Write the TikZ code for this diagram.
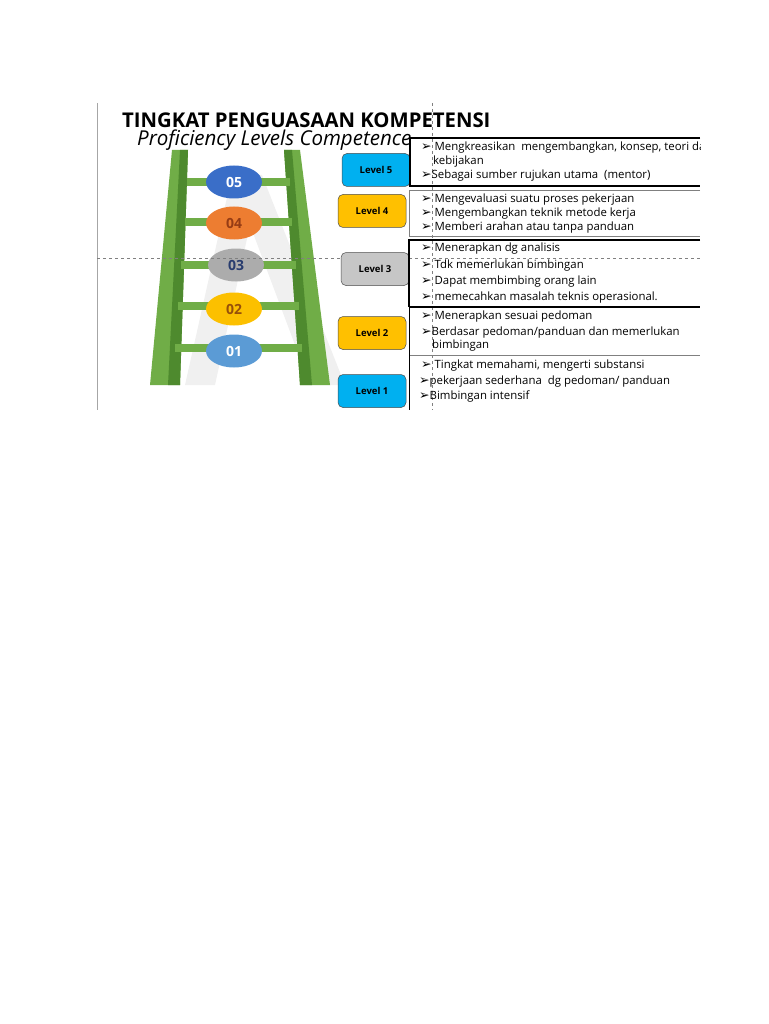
\documentclass[tikz,border=0pt]{standalone}
\usepackage{fontspec}
\setmainfont{Open Sans}
\newfontfamily\djvfont{DejaVu Sans}
\usetikzlibrary{shapes.geometric}
\begin{document}
\begin{tikzpicture}[x=1pt,y=-1pt,
  lvl/.style={rounded corners=5pt,draw=gray!60!black,line width=0.5pt,minimum width=68pt,minimum height=33pt,font=\bfseries\fontsize{9.5}{10}\selectfont},
  egg/.style={ellipse,minimum width=56pt,minimum height=33pt,inner sep=0pt,font=\bfseries\fontsize{14}{14}\selectfont},
  itm/.style={anchor=west,inner sep=0pt,font=\fontsize{11.4}{12}\selectfont}]
\useasboundingbox (0,0) rectangle (768,1024);
\definecolor{lg}{HTML}{70AD47}\definecolor{dg}{HTML}{4E8A2E}
% shadow
\fill[gray!12] (185,385) -- (232,175) -- (262,175) -- (345,385) -- (310,385) -- (250,225) -- (215,385) -- cycle;
% frame lines
\draw[gray!70,line width=0.8pt] (97,103) -- (97,410);
% title
\node[anchor=base west,inner sep=0pt,font=\bfseries\fontsize{20.3}{22}\selectfont] (t1) at (122,128) {TINGKAT PENGUASAAN KOMPETENSI};
\node[anchor=base west,inner sep=0pt,font=\itshape\fontsize{20.5}{22}\selectfont] (t2) at (137,146) {Proficiency Levels Competence};
% ladder rails
\fill[lg] (172,150) -- (188,150) -- (180,385) -- (150,385) -- cycle;
\fill[dg] (180,150) -- (188,150) -- (180,385) -- (168,385) -- cycle;
\fill[lg] (284,150) -- (300,150) -- (330,385) -- (300,385) -- cycle;
\fill[dg] (284,150) -- (292,150) -- (312,385) -- (300,385) -- cycle;
% rungs
\foreach \y/\a/\b in {182/187/290, 222/185/292, 265/181/296, 306/178/299, 348/175/302}
  \fill[lg] (\a,\y-4) rectangle (\b,\y+4);
% eggs
\node[egg,fill={rgb,255:red,58;green,110;blue,200},text=white] (e5) at (234,182) {05};
\node[egg,fill={rgb,255:red,237;green,125;blue,49},text={rgb,255:red,150;green,60;blue,20}] (e4) at (234,223) {04};
\node[egg,fill=gray!65,text={rgb,255:red,40;green,60;blue,110}] (e3) at (236,265) {03};
\node[egg,fill={rgb,255:red,252;green,192;blue,0},text={rgb,255:red,150;green,80;blue,10}] (e2) at (234,309) {02};
\node[egg,fill={rgb,255:red,91;green,155;blue,213},text=white] (e1) at (234,351) {01};
% dashed guides
\draw[gray,dashed,line width=0.4pt] (432,103) -- (432,410);
\draw[gray,dashed,line width=0.4pt] (97,258) -- (700,258);
% level boxes
\node[lvl,fill={rgb,255:red,0;green,176;blue,240}] (l5) at (376,170) {Level 5};
\node[lvl,fill={rgb,255:red,255;green,192;blue,0}] (l4) at (372,211) {Level 4};
\node[lvl,fill=gray!45] (l3) at (375,269) {Level 3};
\node[lvl,fill={rgb,255:red,255;green,192;blue,0}] (l2) at (372,333) {Level 2};
\node[lvl,fill={rgb,255:red,0;green,176;blue,240}] (l1) at (372,391) {Level 1};
% text boxes
\draw[black,line width=1.5pt] (700,138) -- (410,138) -- (410,186) -- (700,186);
\draw[gray,line width=0.6pt] (700,190) -- (409,190) -- (409,236) -- (700,236);
\draw[black,line width=1.2pt] (700,240) -- (409,240) -- (409,307);
\draw[black,line width=1.2pt] (409,307) -- (700,307);
\draw[black,line width=1pt] (409,307) -- (409,355);
\draw[gray,line width=1pt] (409,355) -- (700,355);
\draw[black,line width=1pt] (409,355) -- (409,410);
\begin{scope}
\clip (410,100) rectangle (700,412);
\newcommand\myar{{\djvfont\fontsize{12.5}{10}\selectfont ➢}}
\node[itm] (a1) at (421,148) {\myar\ Mengkreasikan\ \ mengembangkan, konsep, teori dan};
\node[itm] (a2) at (433,162) {kebijakan};
\node[itm] (a3) at (421,176) {\myar Sebagai sumber rujukan utama\ \ (mentor)};
\node[itm] (b1) at (421,200) {\myar\ Mengevaluasi suatu proses pekerjaan};
\node[itm] (b2) at (421,214) {\myar\ Mengembangkan teknik metode kerja};
\node[itm] (b3) at (421,228) {\myar\ Memberi arahan atau tanpa panduan};
\node[itm] (c1) at (421,249) {\myar\ Menerapkan dg analisis};
\node[itm] (c2) at (421,266) {\myar\ Tdk memerlukan bimbingan};
\node[itm] (c3) at (421,282) {\myar\ Dapat membimbing orang lain};
\node[itm] (c4) at (421,298) {\myar\ memecahkan masalah teknis operasional.};
\node[itm] (d1) at (421,317) {\myar\ Menerapkan sesuai pedoman};
\node[itm] (d2) at (421,333) {\myar Berdasar pedoman/panduan dan memerlukan};
\node[itm] (d3) at (432,346) {bimbingan};
\node[itm] (f1) at (421,366) {\myar\ Tingkat memahami, mengerti substansi};
\node[itm] (f2) at (419,382) {\myar pekerjaan sederhana\ \ dg pedoman/ panduan};
\node[itm] (f3) at (419,397) {\myar Bimbingan intensif};
\end{scope}
\end{tikzpicture}
\end{document}
